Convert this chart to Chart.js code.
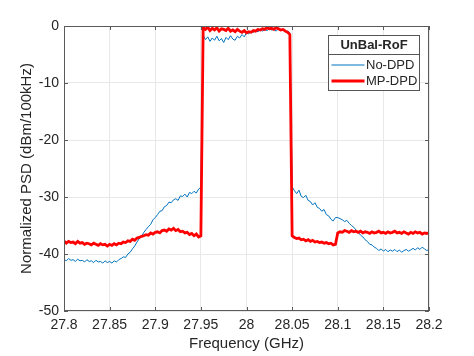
<!DOCTYPE html>
<html>
<head>
<meta charset="utf-8">
<script src="https://cdn.jsdelivr.net/npm/chart.js@4/dist/chart.umd.min.js"></script>
<style>
  html, body { margin: 0; padding: 0; background: #fff; }
  #wrap { width: 474px; height: 356px; position: relative; }
</style>
</head>
<body>
<div id="wrap"><canvas id="c" width="474" height="356"></canvas></div>
<script>
// Frequencies (GHz)
const freqGHz = [
  27.8000,27.8025,27.8050,27.8075,27.8100,27.8125,27.8150,27.8175,27.8200,27.8225,
  27.8250,27.8275,27.8300,27.8325,27.8350,27.8375,27.8400,27.8425,27.8450,27.8475,
  27.8500,27.8525,27.8550,27.8575,27.8600,27.8625,27.8650,27.8675,27.8700,27.8725,
  27.8750,27.8775,27.8800,27.8825,27.8850,27.8875,27.8900,27.8925,27.8950,27.8975,
  27.9000,27.9025,27.9050,27.9075,27.9100,27.9125,27.9150,27.9175,27.9200,27.9225,
  27.9250,27.9275,27.9300,27.9325,27.9350,27.9375,27.9400,27.9425,27.9450,27.9475,
  27.9500,27.9525,27.9550,27.9575,27.9600,27.9625,27.9650,27.9675,27.9700,27.9725,
  27.9750,27.9775,27.9800,27.9825,27.9850,27.9875,27.9900,27.9925,27.9950,27.9975,
  28.0000,28.0025,28.0050,28.0075,28.0100,28.0125,28.0150,28.0175,28.0200,28.0225,
  28.0250,28.0275,28.0300,28.0325,28.0350,28.0375,28.0400,28.0425,28.0450,28.0475,
  28.0500,28.0525,28.0550,28.0575,28.0600,28.0625,28.0650,28.0675,28.0700,28.0725,
  28.0750,28.0775,28.0800,28.0825,28.0850,28.0875,28.0900,28.0925,28.0950,28.0975,
  28.1000,28.1025,28.1050,28.1075,28.1100,28.1125,28.1150,28.1175,28.1200,28.1225,
  28.1250,28.1275,28.1300,28.1325,28.1350,28.1375,28.1400,28.1425,28.1450,28.1475,
  28.1500,28.1525,28.1550,28.1575,28.1600,28.1625,28.1650,28.1675,28.1700,28.1725,
  28.1750,28.1775,28.1800,28.1825,28.1850,28.1875,28.1900,28.1925,28.1950,28.1975,
  28.2000
];

// No-DPD PSD (dBm/100kHz)
const noDpd = [
  -40.9,-41.2,-40.8,-41.1,-41.0,-41.3,-40.9,-41.2,-41.1,-41.4,
  -41.0,-41.3,-41.2,-41.5,-41.1,-41.4,-41.3,-41.6,-41.2,-41.5,
  -41.3,-41.6,-41.2,-41.4,-41.0,-40.8,-40.5,-40.6,-40.0,-39.7,
  -39.1,-38.6,-37.9,-37.3,-36.9,-36.2,-35.7,-35.2,-34.8,-34.0,
  -33.6,-33.1,-32.5,-32.4,-31.7,-31.5,-30.9,-31.0,-30.5,-30.3,
  -30.6,-29.8,-29.9,-29.5,-30.0,-29.2,-29.4,-29.0,-29.3,-28.6,
  -28.3,-1.6,-2.4,-1.9,-2.7,-2.1,-2.5,-1.8,-2.6,-2.2,
  -2.9,-2.0,-2.4,-1.7,-2.3,-2.5,-1.8,-2.1,-1.5,-1.9,
  -1.2,-1.4,-0.9,-1.1,-0.8,-1.0,-0.7,-0.9,-0.6,-0.8,
  -0.5,-0.7,-0.6,-0.9,-0.5,-0.8,-0.7,-1.0,-0.9,-1.2,
  -28.2,-28.9,-29.4,-28.8,-29.9,-30.1,-29.7,-30.6,-30.8,-31.4,
  -31.0,-31.8,-32.0,-32.5,-32.2,-33.1,-33.3,-33.9,-34.2,-33.6,
  -33.6,-33.8,-34.0,-34.3,-34.1,-34.6,-35.0,-35.3,-35.8,-36.2,
  -36.7,-37.0,-37.5,-37.8,-38.3,-38.4,-38.8,-39.0,-39.4,-39.1,
  -39.5,-39.2,-39.6,-39.3,-39.5,-39.2,-39.6,-39.3,-39.7,-39.4,
  -39.2,-39.5,-39.3,-39.0,-39.3,-38.9,-39.2,-38.8,-39.1,-39.4,
  -39.2
];

// MP-DPD PSD (dBm/100kHz)
const mpDpd = [
  -37.7,-38.1,-37.8,-38.0,-37.9,-38.2,-37.8,-38.1,-38.0,-38.3,
  -38.1,-38.2,-38.4,-38.1,-38.3,-38.5,-38.2,-38.4,-38.3,-38.6,
  -38.3,-38.5,-38.2,-38.4,-38.1,-38.2,-37.9,-38.0,-37.7,-37.8,
  -37.4,-37.6,-37.2,-37.1,-36.9,-36.8,-36.6,-36.7,-36.3,-36.5,
  -36.2,-36.1,-36.3,-35.9,-35.8,-36.0,-35.6,-35.8,-35.5,-35.9,
  -35.7,-36.1,-36.0,-36.3,-36.2,-36.6,-36.4,-36.8,-36.5,-37.0,
  -36.8,-0.3,-0.6,-0.2,-0.8,-0.4,-0.7,-0.3,-0.9,-0.5,
  -0.6,-0.8,-0.4,-0.9,-0.7,-1.0,-0.6,-0.9,-1.1,-0.8,
  -1.2,-1.0,-1.1,-0.8,-0.9,-0.6,-0.7,-0.5,-0.6,-0.3,
  -0.5,-0.4,-0.6,-0.3,-0.5,-0.7,-0.6,-0.9,-1.1,-1.5,
  -36.8,-37.1,-37.3,-37.2,-37.5,-37.4,-37.7,-37.5,-37.8,-37.6,
  -37.9,-37.8,-38.0,-37.9,-38.1,-38.0,-38.2,-38.1,-38.4,-38.3,
  -36.3,-36.1,-36.2,-35.9,-36.0,-36.2,-35.9,-36.1,-36.0,-36.2,
  -36.0,-36.3,-36.1,-36.2,-36.4,-36.1,-36.3,-36.2,-36.0,-36.3,
  -36.2,-36.4,-36.1,-36.3,-36.2,-36.0,-36.3,-36.2,-36.4,-36.1,
  -36.3,-36.5,-36.2,-36.4,-36.1,-36.3,-36.2,-36.5,-36.3,-36.4,
  -36.3
];

const seriesLabels = ['No-DPD', 'MP-DPD'];
const legendTitle = 'UnBal-RoF';
const xTicks = [27.8, 27.85, 27.9, 27.95, 28, 28.05, 28.1, 28.15, 28.2];
const xTickLabels = ['27.8','27.85','27.9','27.95','28','28.05','28.1','28.15','28.2'];
const yTicks = [-50, -40, -30, -20, -10, 0];
const yTickLabels = ['-50','-40','-30','-20','-10','0'];
const xTitle = 'Frequency (GHz)';
const yTitle = 'Normalized PSD (dBm/100kHz)';

const FONT = '"Liberation Sans", Arial, Helvetica, sans-serif';
const TEXT = '#262626';
const FRAME = '#5a5a5a';

const boxPlugin = {
  id: 'matlabBox',
  beforeDatasetsDraw(chart) {},
  afterDatasetsDraw(chart) {
    const { ctx, chartArea: a, scales } = chart;
    ctx.save();
    // frame
    ctx.strokeStyle = FRAME;
    ctx.lineWidth = 1;
    ctx.strokeRect(Math.round(a.left) + 0.5, Math.round(a.top) + 0.5,
                   Math.round(a.right - a.left) - 1, Math.round(a.bottom - a.top) - 1);
    // inward ticks
    const tl = 4;
    ctx.beginPath();
    xTicks.forEach(v => {
      const px = Math.round(scales.x.getPixelForValue(v)) + 0.5;
      ctx.moveTo(px, a.bottom); ctx.lineTo(px, a.bottom - tl);
      ctx.moveTo(px, a.top); ctx.lineTo(px, a.top + tl);
    });
    yTicks.forEach(v => {
      const py = Math.round(scales.y.getPixelForValue(v)) + 0.5;
      ctx.moveTo(a.left, py); ctx.lineTo(a.left + tl, py);
      ctx.moveTo(a.right, py); ctx.lineTo(a.right - tl, py);
    });
    ctx.stroke();

    // legend box
    const bx = a.right - 100.5, by = a.top + 9.5, bw = 91, bh = 55, divY = by + 19;
    ctx.fillStyle = '#ffffff';
    ctx.fillRect(bx, by, bw, bh);
    ctx.strokeStyle = '#555555';
    ctx.strokeRect(bx, by, bw, bh);
    ctx.beginPath();
    ctx.moveTo(bx, divY); ctx.lineTo(bx + bw, divY);
    ctx.stroke();
    ctx.fillStyle = TEXT;
    ctx.textBaseline = 'middle';
    ctx.textAlign = 'center';
    ctx.font = 'bold 13px ' + FONT;
    ctx.fillText(legendTitle, bx + bw / 2, by + 10);
    ctx.textAlign = 'left';
    ctx.font = '13px ' + FONT;
    const rows = [by + 29.5, by + 45.5];
    chart.data.datasets.forEach((ds, i) => {
      ctx.strokeStyle = ds.borderColor;
      ctx.lineWidth = ds.borderWidth;
      ctx.beginPath();
      ctx.moveTo(bx + 3, rows[i]); ctx.lineTo(bx + 36, rows[i]);
      ctx.stroke();
      ctx.fillStyle = TEXT;
      ctx.fillText(ds.label, bx + 37.5, rows[i] + 0.5);
    });
    ctx.restore();
  }
};

new Chart(document.getElementById('c'), {
  type: 'line',
  data: {
    datasets: [
      {
        label: seriesLabels[0],
        data: freqGHz.map((f, i) => ({ x: f, y: noDpd[i] })),
        borderColor: '#0072BD',
        borderWidth: 1,
        pointRadius: 0,
        tension: 0,
        order: 1
      },
      {
        label: seriesLabels[1],
        data: freqGHz.map((f, i) => ({ x: f, y: mpDpd[i] })),
        borderColor: '#ff0000',
        borderWidth: 2.8,
        pointRadius: 0,
        tension: 0,
        order: 0
      }
    ]
  },
  options: {
    responsive: false,
    animation: false,
    devicePixelRatio: 1,
    layout: { padding: { left: 0, right: 45, top: 26, bottom: 0 } },
    plugins: { legend: { display: false }, tooltip: { enabled: false } },
    scales: {
      x: {
        type: 'linear',
        min: 27.8, max: 28.2,
        afterBuildTicks: s => { s.ticks = xTicks.map(v => ({ value: v })); },
        afterFit: s => { s.height = 45; },
        ticks: {
          callback: (v) => { const k = xTicks.findIndex(t => Math.abs(t - v) < 1e-9); return k >= 0 ? xTickLabels[k] : ''; },
          color: TEXT, font: { family: FONT, size: 14 }, padding: 6, maxRotation: 0, autoSkip: false
        },
        grid: { color: '#e8e8e8', drawTicks: false, lineWidth: 1 },
        border: { display: false },
        title: { display: true, text: xTitle, color: TEXT, font: { family: FONT, size: 15 }, padding: { top: 0, bottom: 3 } }
      },
      y: {
        type: 'linear',
        min: -50, max: 0,
        afterBuildTicks: s => { s.ticks = yTicks.map(v => ({ value: v })); },
        afterFit: s => { s.width = 64; },
        ticks: {
          callback: (v) => { const k = yTicks.indexOf(v); return k >= 0 ? yTickLabels[k] : ''; },
          color: TEXT, font: { family: FONT, size: 14 }, padding: 5
        },
        grid: { color: '#e8e8e8', drawTicks: false, lineWidth: 1 },
        border: { display: false },
        title: { display: true, text: yTitle, color: TEXT, font: { family: FONT, size: 15 }, padding: { top: 18, bottom: 0 } }
      }
    }
  },
  plugins: [boxPlugin]
});
</script>
</body>
</html>
